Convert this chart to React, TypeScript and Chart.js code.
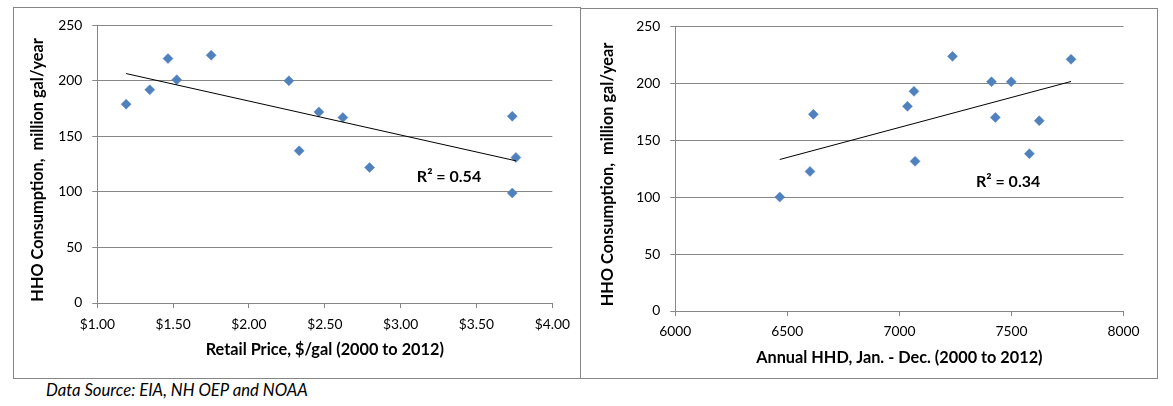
import React, { useEffect, useRef } from "react";
import { Chart, registerables } from "chart.js";

Chart.register(...registerables);

// ---- Data ----
const priceX = [1.19, 1.346, 1.466, 1.524, 1.751, 2.263, 2.331, 2.461, 2.619, 2.795, 3.736, 3.76, 3.736];
const priceConsumption = [179, 192, 220, 201, 223, 200, 137, 172, 167, 122, 168, 131, 99];
const hddX = [6466, 6601, 6616, 7036, 7065, 7070, 7237, 7411, 7428, 7499, 7580, 7624, 7766];
const hddConsumption = [100, 122.6, 172.7, 179.7, 192.9, 131.4, 223.6, 201.3, 170, 201.3, 138.1, 167.1, 221];

const yTicks = [0, 50, 100, 150, 200, 250];
const priceTicks = [1, 1.5, 2, 2.5, 3, 3.5, 4];
const hddTicks = [6000, 6500, 7000, 7500, 8000];

const yTitle = "HHO Consumption,  million gal/year";
const priceTitle = "Retail Price, $/gal (2000 to 2012)";
const hddTitle = "Annual HHD, Jan. - Dec. (2000 to 2012)";
const priceR2 = "R² = 0.54";
const hddR2 = "R² = 0.34";
const sourceNote = "Data Source: EIA, NH OEP and NOAA";

// ---- Styling ----
const FONT = "Lato";
const MARKER = "#4F81BD";
const GRID = "#878787";
const TITLE_SIZE = 16.3;
const TICK_SIZE = 13.8;

function trend(xs: number[], ys: number[]) {
  const n = xs.length;
  const mx = xs.reduce((a, b) => a + b, 0) / n;
  const my = ys.reduce((a, b) => a + b, 0) / n;
  let sxy = 0;
  let sxx = 0;
  for (let i = 0; i < n; i++) {
    sxy += (xs[i] - mx) * (ys[i] - my);
    sxx += (xs[i] - mx) * (xs[i] - mx);
  }
  const b = sxy / sxx;
  const a = my - b * mx;
  const lo = Math.min(...xs);
  const hi = Math.max(...xs);
  return [
    { x: lo, y: a + b * lo },
    { x: hi, y: a + b * hi },
  ];
}

const r2Plugin = {
  id: "r2label",
  afterDatasetsDraw(chart: any, _args: any, opts: any) {
    const { ctx, scales } = chart;
    ctx.save();
    ctx.font = `bold 16px ${FONT}`;
    ctx.fillStyle = "#000";
    ctx.textAlign = "center";
    ctx.textBaseline = "middle";
    ctx.fillText(opts.text, scales.x.getPixelForValue(opts.x), scales.y.getPixelForValue(opts.y));
    ctx.restore();
  },
};

type Cfg = {
  xs: number[];
  ys: number[];
  xTicks: number[];
  fmt: (v: number) => string;
  xTitle: string;
  r2: string;
  r2x: number;
  r2y: number;
  pad: { left: number; top: number; right: number; bottom: number };
  yAxisWidth: number;
  xAxisHeight: number;
  yTitlePad: number;
  xTitlePad: number;
  xTickPad: number;
};

function makeConfig(c: Cfg): any {
  const pts = c.xs.map((x, i) => ({ x, y: c.ys[i] }));
  return {
    type: "scatter",
    data: {
      datasets: [
        {
          data: trend(c.xs, c.ys),
          showLine: true,
          borderColor: "#000",
          borderWidth: 1,
          pointRadius: 0,
          pointHoverRadius: 0,
        },
        {
          data: pts,
          pointStyle: "rectRot",
          pointRadius: 5,
          pointHoverRadius: 5,
          pointBackgroundColor: MARKER,
          pointBorderColor: MARKER,
          pointBorderWidth: 0.5,
        },
      ],
    },
    options: {
      animation: false,
      responsive: false,
      devicePixelRatio: 1,
      events: [],
      layout: { padding: c.pad },
      plugins: {
        legend: { display: false },
        tooltip: { enabled: false },
        r2label: { text: c.r2, x: c.r2x, y: c.r2y },
      },
      scales: {
        x: {
          type: "linear",
          min: c.xTicks[0],
          max: c.xTicks[c.xTicks.length - 1],
          afterBuildTicks: (s: any) => {
            s.ticks = c.xTicks.map((v) => ({ value: v }));
          },
          afterFit: (s: any) => {
            s.height = c.xAxisHeight;
          },
          grid: {
            display: true,
            drawOnChartArea: false,
            drawTicks: true,
            tickLength: 5,
            tickColor: GRID,
            color: GRID,
          },
          border: { display: true, color: GRID, width: 1 },
          ticks: {
            autoSkip: false,
            maxRotation: 0,
            padding: c.xTickPad,
            color: "#000",
            font: { family: FONT, size: TICK_SIZE },
            callback: (v: number) => c.fmt(v),
          },
          title: {
            display: true,
            text: c.xTitle,
            color: "#000",
            font: { family: FONT, size: TITLE_SIZE, weight: "bold" },
            padding: { top: 0, bottom: c.xTitlePad },
          },
        },
        y: {
          type: "linear",
          min: 0,
          max: 250,
          afterBuildTicks: (s: any) => {
            s.ticks = yTicks.map((v) => ({ value: v }));
          },
          afterFit: (s: any) => {
            s.width = c.yAxisWidth;
          },
          grid: {
            display: true,
            drawOnChartArea: true,
            drawTicks: true,
            tickLength: 5,
            tickColor: GRID,
            color: GRID,
          },
          border: { display: true, color: GRID, width: 1 },
          ticks: {
            padding: 10,
            color: "#000",
            font: { family: FONT, size: TICK_SIZE },
            callback: (v: number) => String(v),
          },
          title: {
            display: true,
            // trailing no-break spaces nudge the rotated title slightly downward, as in the original
            text: yTitle + "\u00a0\u00a0\u00a0",
            color: "#000",
            font: { family: FONT, size: TITLE_SIZE, weight: "bold" },
            padding: { top: c.yTitlePad, bottom: 0 },
          },
        },
      },
    },
    plugins: [r2Plugin],
  };
}

export default function App() {
  const leftRef = useRef<HTMLCanvasElement>(null);
  const rightRef = useRef<HTMLCanvasElement>(null);

  useEffect(() => {
    const c1 = new Chart(
      leftRef.current as HTMLCanvasElement,
      makeConfig({
        xs: priceX,
        ys: priceConsumption,
        xTicks: priceTicks,
        fmt: (v) => "$" + v.toFixed(2),
        xTitle: priceTitle,
        r2: priceR2,
        r2x: 3.319,
        r2y: 113.3,
        pad: { left: 0, top: 17.3, right: 28.7, bottom: 0 },
        yAxisWidth: 84.3,
        xAxisHeight: 75,
        yTitlePad: 14.7,
        xTitlePad: 18.2,
        xTickPad: 8,
      })
    );
    const c2 = new Chart(
      rightRef.current as HTMLCanvasElement,
      makeConfig({
        xs: hddX,
        ys: hddConsumption,
        xTicks: hddTicks,
        fmt: (v) => String(v),
        xTitle: hddTitle,
        r2: hddR2,
        r2x: 7485,
        r2y: 113.5,
        pad: { left: 0, top: 18.3, right: 34.5, bottom: 0 },
        yAxisWidth: 95.3,
        xAxisHeight: 67,
        yTitlePad: 17.6,
        xTitlePad: 10.7,
        xTickPad: 7,
      })
    );
    return () => {
      c1.destroy();
      c2.destroy();
    };
  }, []);

  return (
    <div
      style={{
        position: "absolute",
        left: 0,
        top: 0,
        width: 1173,
        height: 406,
        background: "#fff",
        fontFamily: FONT,
        overflow: "hidden",
      }}
    >
      <div
        style={{
          position: "absolute",
          left: 13,
          top: 7,
          width: 568,
          height: 372,
          boxSizing: "border-box",
          border: "1px solid #868686",
        }}
      />
      <div
        style={{
          position: "absolute",
          left: 580,
          top: 8,
          width: 578,
          height: 371,
          boxSizing: "border-box",
          border: "1px solid #868686",
        }}
      />
      <canvas
        ref={leftRef}
        width={568}
        height={371}
        style={{ position: "absolute", left: 13, top: 7, width: 568, height: 371 }}
      />
      <canvas
        ref={rightRef}
        width={578}
        height={370}
        style={{ position: "absolute", left: 580, top: 8, width: 578, height: 370 }}
      />
      <div
        style={{
          position: "absolute",
          left: 46,
          top: 382,
          fontStyle: "italic",
          fontSize: 16.7,
          lineHeight: "16px",
          whiteSpace: "nowrap",
          color: "#000",
        }}
      >
        {sourceNote}
      </div>
    </div>
  );
}
